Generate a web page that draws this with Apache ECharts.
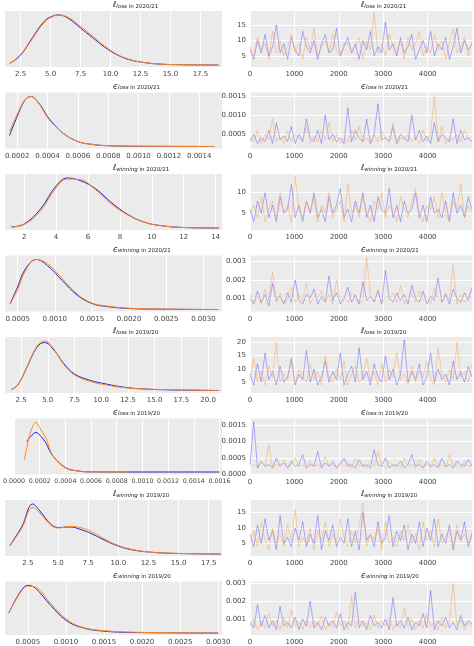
<!DOCTYPE html>
<html>
<head>
<meta charset="utf-8">
<script src="https://cdn.jsdelivr.net/npm/echarts@6/dist/echarts.min.js"></script>
<style>
  html, body { margin: 0; padding: 0; background: #fff; }
  #chart { width: 474px; height: 646px; }
</style>
</head>
<body>
<div id="chart"></div>
<script>
'use strict';

// panel titles: symbol, subscript, season
const titles = [
  ['ℓ', 'loss', '2020/21'], ['ϵ', 'loss', '2020/21'],
  ['ℓ', 'winning', '2020/21'], ['ϵ', 'winning', '2020/21'],
  ['ℓ', 'loss', '2019/20'], ['ϵ', 'loss', '2019/20'],
  ['ℓ', 'winning', '2019/20'], ['ϵ', 'winning', '2019/20']
];

// KDE panels: x grid, blue and orange relative density
const kdeX = [
  [1.6, 2.5, 3.5, 4.5, 5.2, 5.7, 6.5, 7.5, 8.5, 9.5, 10.5, 11.5, 12.5, 14, 16, 19],
  [0.00015, 0.0002, 0.00025, 0.00029, 0.00034, 0.0004, 0.00045, 0.0005, 0.0006, 0.0007, 0.0008, 0.001, 0.0012, 0.0015],
  [1.2, 2, 3, 4, 4.7, 5.5, 6.5, 7.5, 8.5, 9.5, 10.5, 12, 14.2],
  [0.0004, 0.0005, 0.0006, 0.00075, 0.0009, 0.0011, 0.0013, 0.0015, 0.0017, 0.002, 0.0025, 0.0032],
  [1.6, 2.2, 3, 4, 4.7, 5.5, 6.5, 7.5, 9, 10, 12, 14, 17, 21],
  [0.00008, 0.0001, 0.00013, 0.00017, 0.00021, 0.00025, 0.0003, 0.0004, 0.0005, 0.0006, 0.00088, 0.0012, 0.0016],
  [1, 2, 2.9, 3.5, 4.3, 5, 6, 7, 8, 9, 10, 11, 12.5, 15, 18.5],
  [0.00025, 0.0004, 0.0005, 0.0006, 0.0008, 0.001, 0.0012, 0.0015, 0.002, 0.0025, 0.003]
];
const kdeBlue = [
  [0.03, 0.2, 0.55, 0.88, 0.98, 1.0, 0.93, 0.74, 0.55, 0.36, 0.21, 0.11, 0.06, 0.02, 0.005, 0],
  [0.22, 0.6, 0.92, 1.0, 0.88, 0.6, 0.42, 0.27, 0.1, 0.04, 0.015, 0.005, 0.002, 0],
  [0.02, 0.08, 0.37, 0.84, 1.0, 0.95, 0.78, 0.5, 0.27, 0.12, 0.05, 0.01, 0],
  [0.12, 0.45, 0.8, 1.0, 0.88, 0.58, 0.29, 0.12, 0.06, 0.02, 0.006, 0],
  [0.03, 0.12, 0.45, 0.88, 0.97, 0.84, 0.55, 0.34, 0.21, 0.16, 0.08, 0.04, 0.02, 0.01],
  [null, 0.62, 0.72, 0.8, 0.72, 0.58, 0.34, 0.1, 0.03, 0.012, 0.01, 0.01, 0.01],
  [0.17, 0.55, 1.0, 0.86, 0.62, 0.53, 0.54, 0.48, 0.38, 0.26, 0.16, 0.09, 0.04, 0.01, 0],
  [0.42, 0.86, 1.0, 0.94, 0.58, 0.27, 0.12, 0.04, 0.01, 0.004, 0]
];
const kdeOrange = [
  [0.03, 0.19, 0.53, 0.86, 0.97, 1.0, 0.95, 0.77, 0.58, 0.38, 0.22, 0.12, 0.06, 0.02, 0.006, 0],
  [0.3, 0.64, 0.93, 1.0, 0.87, 0.58, 0.41, 0.27, 0.1, 0.04, 0.016, 0.006, 0.003, 0],
  [0.02, 0.07, 0.33, 0.8, 0.98, 0.97, 0.76, 0.47, 0.26, 0.12, 0.05, 0.01, 0],
  [0.12, 0.4, 0.76, 1.0, 0.92, 0.62, 0.31, 0.13, 0.07, 0.025, 0.008, 0],
  [0.03, 0.12, 0.46, 0.9, 1.0, 0.86, 0.53, 0.32, 0.19, 0.14, 0.07, 0.04, 0.025, 0.01],
  [0.25, 0.5, 0.82, 1.0, 0.85, 0.68, 0.35, 0.09, 0.03, 0.012, 0.01, null, null],
  [0.16, 0.52, 0.93, 0.82, 0.6, 0.52, 0.55, 0.52, 0.42, 0.28, 0.17, 0.1, 0.04, 0.012, 0],
  [0.42, 0.84, 0.98, 0.96, 0.62, 0.3, 0.13, 0.05, 0.015, 0.006, 0]
];
// KDE x axes: range and tick labels
const kdeRange = [
  [1.2, 19.3], [0.00012, 0.00155], [0.8, 14.4], [0.00033, 0.00325],
  [1, 21.3], [0, 0.00162], [0.6, 18.6], [0.0002, 0.00305]
];
const kdeTicks = [
  ['2.5', '5.0', '7.5', '10.0', '12.5', '15.0', '17.5'],
  ['0.0002', '0.0004', '0.0006', '0.0008', '0.0010', '0.0012', '0.0014'],
  ['2', '4', '6', '8', '10', '12', '14'],
  ['0.0005', '0.0010', '0.0015', '0.0020', '0.0025', '0.0030'],
  ['2.5', '5.0', '7.5', '10.0', '12.5', '15.0', '17.5', '20.0'],
  ['0.0000', '0.0002', '0.0004', '0.0006', '0.0008', '0.0010', '0.0012', '0.0014', '0.0016'],
  ['2.5', '5.0', '7.5', '10.0', '12.5', '15.0', '17.5'],
  ['0.0005', '0.0010', '0.0015', '0.0020', '0.0025', '0.0030']
];

// trace panels: draws (sampled), in units of traceUnit
const traceUnit = [1, 1e-4, 1, 1e-4, 1, 1e-4, 1, 1e-4];
const traceBlue = [
  [7,4,10,6,12,5,8,15,6,9,4,11,7,5,13,8,6,10,4,9,12,6,7,14,5,8,11,6,9,4,10,7,13,5,8,6,16,7,9,5,11,6,8,12,4,7,10,6,13,5,9,7,11,4,8,14,6,10,7,9],
  [3,5,2.5,4,3,6,2.5,8,3.5,4.5,3,7,2.5,5,3,9,4,3,6,2.5,10,3.5,5,3,4,2.5,12,3,6,4,3,9,2.5,5,13,3.5,4,3,7,2.5,5,4,3,10,3.5,6,3,4.5,2.5,8,3,5,4,3,9,2.5,6,3.5,4,3],
  [6,3,8,5,10,4,7,3,9,5,6,12,4,7,3,8,5,10,4,6,3,9,5,7,11,4,6,3,8,5,10,4,7,3,9,6,5,11,4,7,3,8,5,6,10,4,7,3,9,5,6,4,8,3,10,5,7,4,9,6],
  [10,7,14,8,12,6,18,9,11,7,13,8,20,9,7,12,10,15,7,11,8,22,9,13,7,10,16,8,12,7,19,9,11,8,14,7,25,10,8,13,9,12,7,17,10,8,14,7,11,9,21,8,12,7,15,10,8,13,9,16],
  [8,4,12,5,16,6,9,4,11,5,7,14,4,8,6,17,5,10,4,7,13,5,9,6,16,4,8,11,5,18,6,9,4,12,7,5,15,6,10,4,8,21,5,9,6,12,4,7,16,5,10,6,8,4,13,6,9,5,11,7],
  [3,16,2,4,2.5,3,2,5,2.5,3.5,2,4,2.5,3,6,2,3,2.5,7,2,3.5,2.5,4,2,3,5,2.5,3,2,4.5,2.5,3,2,7.5,3,2.5,5,2,3,2.5,4,2,3,6,2.5,3,2,4,2.5,3,2,5,2.5,3,2,4,3,2.5,4.5,2.5],
  [8,4,11,5,13,6,9,3,14,5,7,4,10,6,12,4,8,5,14,3,9,6,11,4,7,5,13,4,9,3,15,6,8,4,12,5,7,14,4,9,6,11,3,8,5,12,4,10,6,13,4,8,5,11,3,9,6,12,4,8],
  [8,5,18,6,12,5,9,4,17,6,8,5,11,4,10,6,20,5,8,4,11,6,9,5,13,4,8,6,25,5,9,4,12,6,8,5,10,4,22,6,9,5,11,4,8,6,13,5,26,4,9,6,11,5,8,4,12,6,9,7]
];
const traceOrange = [
  [8,5,11,7,9,4,13,6,10,5,8,12,6,9,4,11,7,14,5,8,10,6,12,7,5,9,9,6,8,11,4,10,7,19,6,9,5,12,8,6,10,4,11,7,9,13,5,8,6,12,7,10,4,9,14,6,8,11,5,10],
  [4,3,6,2.5,5,3.5,9,3,4,2.5,6,3,5,4,3,7,2.5,4.5,3,6,3.5,8,3,5,2.5,4,3,6,3.5,7,3,4,2.5,5,3,6,4,3,8,2.5,4,3.5,5,3,4,2.5,6,3,5,15,3,7,2.5,4,3.5,5,3,6,4,3],
  [5,7,4,9,3,6,8,4,10,5,7,3,14,6,4,8,5,9,3,7,5,10,4,6,8,3,12,5,7,4,9,5,3,8,6,10,4,7,5,3,9,6,4,8,11,5,3,7,6,9,4,10,5,3,8,6,12,4,7,5],
  [12,8,11,7,15,9,24,8,13,7,10,16,8,12,9,18,7,11,10,14,8,12,7,20,9,11,8,13,10,7,9,32,12,8,15,7,11,9,13,8,17,7,10,12,8,14,9,11,7,16,10,8,13,9,28,7,12,8,11,10],
  [6,14,5,9,4,11,7,20,5,8,6,13,4,10,7,5,12,6,9,4,15,7,5,10,6,13,4,8,11,5,7,14,6,9,4,12,5,10,7,16,6,8,4,11,5,9,7,13,6,4,18,8,5,10,6,20,7,9,5,12],
  [2.5,3,2,4,2.5,9,2,3,2.5,4.5,2,3,5,2.5,3,2,4,2.5,3,2,5.5,2.5,3,2,4,2.5,3.5,2,5,2.5,3,2,4,2.5,7,3,2,4,2.5,3,2,5,2.5,3,2,4.5,2.5,3,2,5,2.5,3,2,6,2.5,3,2,4,2.5,3],
  [5,9,4,12,6,3,10,5,8,4,11,6,16,4,7,5,10,3,9,6,12,4,8,5,13,7,4,9,5,11,18,4,8,6,10,3,12,5,7,4,9,6,11,5,8,3,12,6,9,4,13,5,7,10,4,11,6,8,5,9],
  [6,10,4,8,5,13,6,9,4,11,5,15,6,8,4,10,5,9,6,12,4,8,5,14,6,9,4,23,5,10,6,8,4,12,5,9,6,11,4,8,5,16,6,10,4,9,5,13,6,8,4,11,5,9,30,6,10,4,8,5]
];
const traceRange = [
  [1.5, 19.5], [0.00012, 0.0016], [1, 14.5], [0.0003, 0.0033],
  [1, 22], [0, 0.0017], [1, 19], [0.0001, 0.0031]
];
const traceTicks = [
  ['5', '10', '15'],
  ['0.0005', '0.0010', '0.0015'],
  ['5', '10'],
  ['0.001', '0.002', '0.003'],
  ['5', '10', '15', '20'],
  ['0.0000', '0.0005', '0.0010', '0.0015'],
  ['5', '10', '15'],
  ['0.001', '0.002', '0.003']
];
const drawTicks = ['0', '1000', '2000', '3000', '4000'];
const nDraws = 4999;

const chart = echarts.init(document.getElementById('chart'));
const grids = [], xAxes = [], yAxes = [], series = [], texts = [];
const labelStyle = { fontSize: 7, color: '#444', margin: 4, hideOverlap: false };
const white = { lineStyle: { color: '#fff', width: 1 } };

function tickAxis(gridIndex, range, ticks, extra) {
  const vals = ticks.map(Number);
  return Object.assign({
    type: 'value', gridIndex: gridIndex, min: range[0], max: range[1],
    axisLine: { show: false },
    axisTick: { show: false, customValues: vals },
    splitLine: white,
    axisLabel: Object.assign({}, labelStyle, {
      customValues: vals,
      formatter: function(v) { return ticks[vals.indexOf(+v)] !== undefined ? ticks[vals.indexOf(+v)] : ''; }
    })
  }, extra || {});
}

titles.forEach(function(t, i) {
  const top = 11 + 81.5 * i;
  // left: KDE, right: trace
  grids.push({ left: 5, width: 217, top: top, height: 56 });
  grids.push({ left: 250, width: 222, top: top, height: 56 });
  [113, 361].forEach(function(cx) {
    texts.push({
      type: 'text', left: cx, top: top - 10,
      style: {
        text: '{s|' + t[0] + '}{b|' + t[1] + '}{c| in ' + t[2] + '}',
        rich: {
          s: { fontSize: 8, fontStyle: 'italic', fill: '#222', fontFamily: 'DejaVu Sans' },
          b: { fontSize: 5.5, fontStyle: 'italic', fill: '#222', padding: [3, 0, 0, 0], fontFamily: 'DejaVu Sans' },
          c: { fontSize: 5.5, fill: '#222', padding: [3, 0, 0, 0], fontFamily: 'DejaVu Sans' }
        },
        align: 'center'
      }
    });
  });

  const kx = tickAxis(2 * i, kdeRange[i], kdeTicks[i]);
  if (kdeTicks[i].length > 8) kx.axisLabel.fontSize = 6.3;
  xAxes.push(kx);
  yAxes.push({
    type: 'value', gridIndex: 2 * i, min: -0.04, max: 1.08,
    axisLine: { show: false }, axisTick: { show: false }, axisLabel: { show: false },
    splitLine: { show: false }
  });

  xAxes.push(tickAxis(2 * i + 1, [0, nDraws], drawTicks));
  yAxes.push(tickAxis(2 * i + 1, traceRange[i], traceTicks[i]));

  const xs = kdeX[i];
  [[kdeBlue[i], '#2323c8'], [kdeOrange[i], '#ff8a1e']].forEach(function(pair) {
    series.push({
      type: 'line', xAxisIndex: 2 * i, yAxisIndex: 2 * i, smooth: 0.4, symbol: 'none',
      lineStyle: { color: pair[1], width: 1 }, silent: true,
      data: xs.map(function(x, k) { return [x, pair[0][k]]; }).filter(function(p) { return p[1] !== null; })
    });
  });

  const unit = traceUnit[i];
  [[traceBlue[i], 'rgba(90,90,255,0.6)'], [traceOrange[i], 'rgba(255,160,80,0.6)']].forEach(function(pair) {
    const n = pair[0].length;
    series.push({
      type: 'line', xAxisIndex: 2 * i + 1, yAxisIndex: 2 * i + 1, symbol: 'none', silent: true,
      lineStyle: { color: pair[1], width: 0.8 },
      data: pair[0].map(function(v, k) { return [Math.round(k * nDraws / (n - 1)), v * unit]; })
    });
  });
});

chart.setOption({
  backgroundColor: '#fff',
  animation: false,
  textStyle: { fontFamily: 'DejaVu Sans' },
  grid: grids.map(function(g) { return Object.assign({ backgroundColor: '#ebebeb', show: true, borderWidth: 0 }, g); }),
  xAxis: xAxes,
  yAxis: yAxes,
  series: series,
  graphic: texts
});
</script>
</body>
</html>
